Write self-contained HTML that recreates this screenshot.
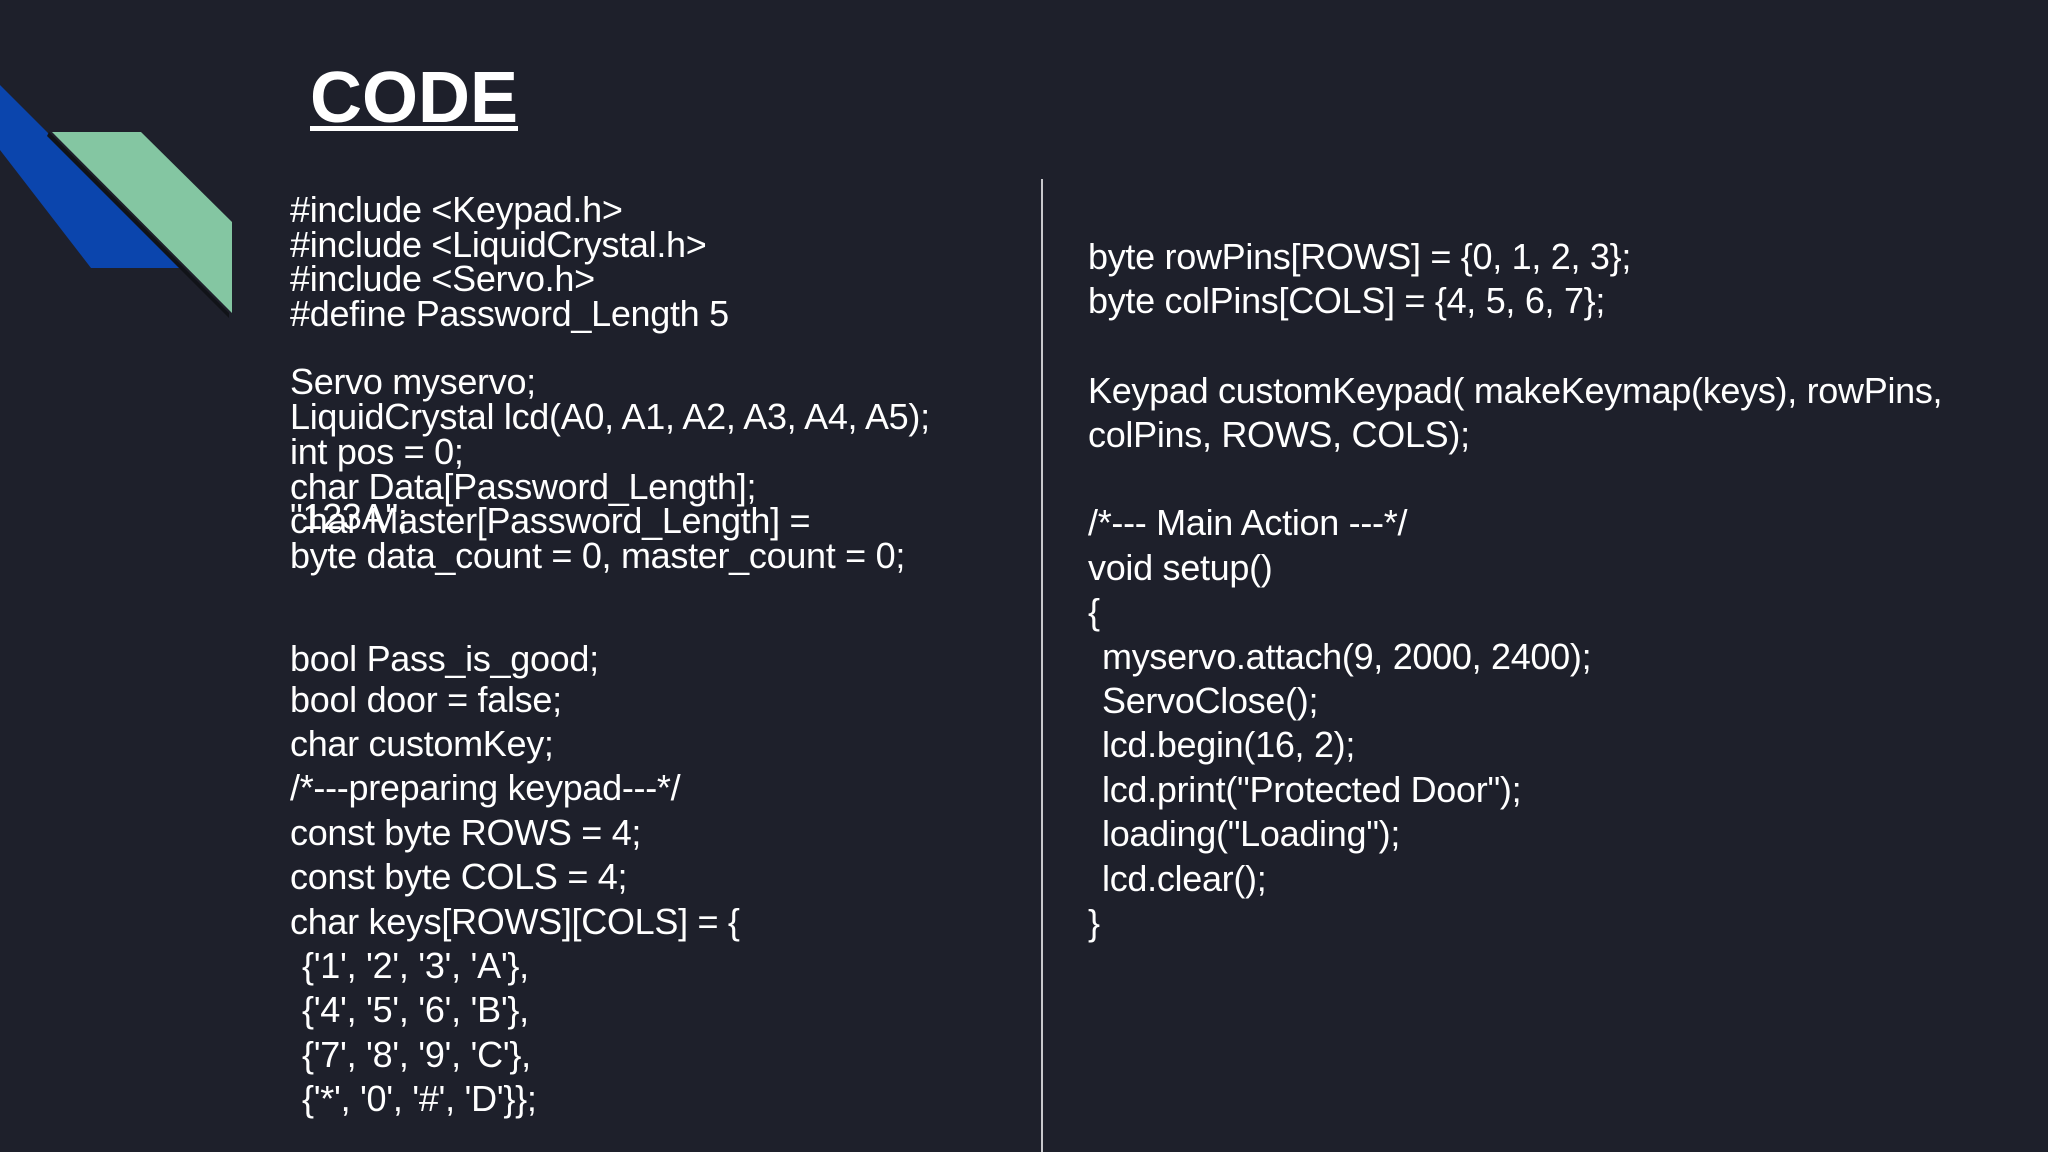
<!DOCTYPE html>
<html><head><meta charset="utf-8"><style>
body{margin:0;width:2048px;height:1152px;background:#1e202b;overflow:hidden;position:relative;font-family:"Liberation Sans",sans-serif;color:#fff}
.l{position:absolute;font-size:36px;line-height:40px;white-space:pre;letter-spacing:-0.3px}
.t{position:absolute;left:310px;top:58px;font-size:72px;font-weight:bold;line-height:80px;color:#fff}
.u{position:absolute;left:310px;top:126px;width:208px;height:5px;background:#fff}
.div{position:absolute;left:1041px;top:179px;width:2px;height:973px;background:#c8c8cc}
</style></head><body>
<svg width="300" height="330" style="position:absolute;left:0;top:0">
<polygon points="0,85 183,268 91,268 0,150" fill="#0b45ad"/>
<polygon points="49,132 229,313 229,318 47,136" fill="#111318"/>
<polygon points="52,132 141,132 232,222 232,313" fill="#84c6a2"/>
</svg>
<div class="t">CODE</div><div class="u"></div>
<div class="div"></div>
<div class="l" style="left:290px;top:190px">#include &lt;Keypad.h&gt;</div>
<div class="l" style="left:290px;top:225px">#include &lt;LiquidCrystal.h&gt;</div>
<div class="l" style="left:290px;top:259px">#include &lt;Servo.h&gt;</div>
<div class="l" style="left:290px;top:294px">#define Password_Length 5</div>
<div class="l" style="left:290px;top:362px">Servo myservo;</div>
<div class="l" style="left:290px;top:397px">LiquidCrystal lcd(A0, A1, A2, A3, A4, A5);</div>
<div class="l" style="left:290px;top:432px">int pos = 0;</div>
<div class="l" style="left:290px;top:467px">char Data[Password_Length];</div>
<div class="l" style="left:290px;top:501px">char Master[Password_Length] =</div>
<div class="l" style="left:290px;top:497px">"123A";</div>
<div class="l" style="left:290px;top:536px">byte data_count = 0, master_count = 0;</div>
<div class="l" style="left:290px;top:639px">bool Pass_is_good;</div>
<div class="l" style="left:290px;top:680px">bool door = false;</div>
<div class="l" style="left:290px;top:724px">char customKey;</div>
<div class="l" style="left:290px;top:768px">/*---preparing keypad---*/</div>
<div class="l" style="left:290px;top:813px">const byte ROWS = 4;</div>
<div class="l" style="left:290px;top:857px">const byte COLS = 4;</div>
<div class="l" style="left:290px;top:902px">char keys[ROWS][COLS] = {</div>
<div class="l" style="left:302px;top:946px">{'1', '2', '3', 'A'},</div>
<div class="l" style="left:302px;top:990px">{'4', '5', '6', 'B'},</div>
<div class="l" style="left:302px;top:1035px">{'7', '8', '9', 'C'},</div>
<div class="l" style="left:302px;top:1079px">{'*', '0', '#', 'D'}};</div>
<div class="l" style="left:1088px;top:237px">byte rowPins[ROWS] = {0, 1, 2, 3};</div>
<div class="l" style="left:1088px;top:281px">byte colPins[COLS] = {4, 5, 6, 7};</div>
<div class="l" style="left:1088px;top:371px">Keypad customKeypad( makeKeymap(keys), rowPins,</div>
<div class="l" style="left:1088px;top:415px">colPins, ROWS, COLS);</div>
<div class="l" style="left:1088px;top:503px">/*--- Main Action ---*/</div>
<div class="l" style="left:1088px;top:548px">void setup()</div>
<div class="l" style="left:1088px;top:592px">{</div>
<div class="l" style="left:1102px;top:637px">myservo.attach(9, 2000, 2400);</div>
<div class="l" style="left:1102px;top:681px">ServoClose();</div>
<div class="l" style="left:1102px;top:725px">lcd.begin(16, 2);</div>
<div class="l" style="left:1102px;top:770px">lcd.print("Protected Door");</div>
<div class="l" style="left:1102px;top:814px">loading("Loading");</div>
<div class="l" style="left:1102px;top:859px">lcd.clear();</div>
<div class="l" style="left:1088px;top:903px">}</div>
</body></html>
